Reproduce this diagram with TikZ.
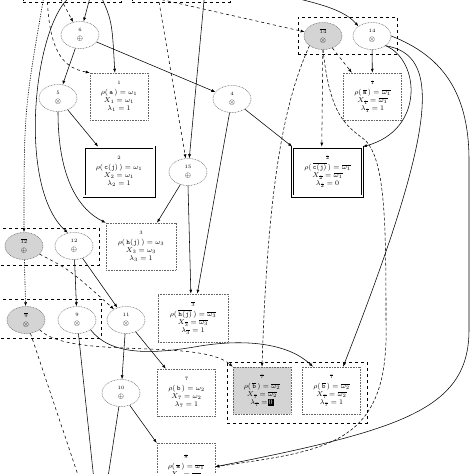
\documentclass[tikz,border=0pt]{standalone}
\usepackage{amsmath,amssymb}
\usepackage{xcolor}
\usepackage{tikz}
\usetikzlibrary{arrows.meta,shapes.geometric}
\definecolor{opgray}{HTML}{D4D4D4}

\begin{document}
\begin{tikzpicture}[x=1pt, y=-1pt,
  op/.style={ellipse, draw=black!60, dash pattern=on 0.8pt off 0.8pt, line width=0.5pt, fill=white, minimum width=38pt, minimum height=27pt, inner sep=0pt, font=\tiny, align=center},
  opg/.style={op, fill=opgray},
  cell/.style={rectangle, draw=black!60, dash pattern=on 0.8pt off 0.8pt, line width=0.5pt, fill=white, minimum width=58pt, minimum height=47pt, inner sep=1pt, font=\scriptsize, align=center},
  cellg/.style={cell, fill=opgray},
  dcell/.style={cell, draw=black, solid, double, double distance=1.6pt, line width=0.7pt, minimum width=70pt, minimum height=49pt},
  grp/.style={draw, dashed, line width=0.7pt, inner sep=0pt},
  arr/.style={-{Latex[length=4pt,width=3pt]}, line width=0.55pt},
  darr/.style={arr, dashed},
  sarr/.style={arr, densely dashed},
  parr/.style={arr, dash pattern=on 1.2pt off 1.2pt, line width=0.6pt}]
\useasboundingbox (0,0) rectangle (474,474);
\clip (0,0) rectangle (474,474);
% groups
\node[grp, minimum width=98pt, minimum height=42pt] (topA) at (72,-19) {};
\node[grp, minimum width=98pt, minimum height=42pt] (topB) at (181,-19) {};
\node[grp, minimum width=99pt, minimum height=37pt] (g14) at (347.5,35.5) {};
\node[grp, minimum width=104pt, minimum height=37pt] (g12) at (47,246.5) {};
\node[grp, minimum width=106pt, minimum height=39pt] (g9) at (48,318.5) {};
\node[grp, minimum width=140pt, minimum height=61pt] (g7) at (297,392.5) {};
% operator nodes
\foreach \nm/\px/\py/\lab/\sym in {n6/80/35/6/\oplus, n5/58/98/5/\otimes, n4/232/99/4/\otimes,
    n15/188/172/15/\oplus, n14/372/36/14/\otimes, n12/74/246/12/\oplus,
    n9/77/320/9/\otimes, n11/126/320/11/\otimes, n10/121/393/10/\oplus}
  \node[op] (\nm) at (\px,\py) {\lab\\[3pt]{\scriptsize$\sym$}};
\foreach \nm/\px/\py/\lab/\sym in {n14b/323/36/{$\overline{14}$}/\otimes,
    n12b/24/246/{$\overline{12}$}/\oplus, n9b/26/320/{$\overline{9}$}/\otimes}
  \node[opg] (\nm) at (\px,\py) {\lab\\[3pt]{\scriptsize$\sym$}};
% leaves
\node[cell] (n1) at (119,96.5) {{\tiny 1}\\[2pt]$\rho(\,\mathtt{a}\,)=\omega_1$\\$X_1=\omega_1$\\$\lambda_1=1$};
\node[cell] (n1b) at (372.5,96.5) {{\tiny $\overline{1}$}\\[2pt]$\rho(\,\overline{\mathtt{a}}\,)=\overline{\omega_1}$\\$X_{\overline{1}}=\overline{\omega_1}$\\$\lambda_{\overline{1}}=1$};
\node[dcell] (n2) at (119,171.5) {{\tiny 2}\\[2pt]$\rho(\,\mathtt{c(j)}\,)=\omega_1$\\$X_2=\omega_1$\\$\lambda_2=1$};
\node[dcell] (n2b) at (327.5,171.5) {{\tiny $\overline{2}$}\\[2pt]$\rho(\,\overline{\mathtt{c(j)}}\,)=\overline{\omega_1}$\\$X_{\overline{2}}=\overline{\omega_1}$\\$\lambda_{\overline{2}}=0$};
\node[cell, minimum width=70pt] (n3) at (141,246.5) {{\tiny 3}\\[2pt]$\rho(\,\mathtt{h(j)}\,)=\omega_3$\\$X_3=\omega_3$\\$\lambda_3=1$};
\node[cell, minimum width=70pt, minimum height=48pt] (n3b) at (193,318) {{\tiny $\overline{3}$}\\[2pt]$\rho(\,\overline{\mathtt{h(j)}}\,)=\overline{\omega_3}$\\$X_{\overline{3}}=\overline{\omega_3}$\\$\lambda_{\overline{3}}=1$};
\node[cell] (n7) at (186.5,392.5) {{\tiny 7}\\[2pt]$\rho(\,\mathtt{b}\,)=\omega_2$\\$X_7=\omega_2$\\$\lambda_7=1$};
\node[cellg] (n7s) at (262,390.5) {{\tiny $\overline{7}$}\\[2pt]$\rho(\,\overline{\mathtt{b}}\,)=\overline{\omega_2}$\\$X_{\overline{7}}=\overline{\omega_2}$\\$\lambda_{\overline{7}}=${\fboxsep=1pt\colorbox{black}{\color{white}$0$}}};
\node[cell] (n7r) at (331.5,390.5) {{\tiny $\overline{7}$}\\[2pt]$\rho(\,\overline{\mathtt{b}}\,)=\overline{\omega_2}$\\$X_{\overline{7}}=\overline{\omega_2}$\\$\lambda_{\overline{7}}=1$};
\node[cell, anchor=north] (n8) at (186,443) {{\tiny $\overline{8}$}\\[2pt]$\rho(\,\overline{\mathtt{a}}\,)=\overline{\omega_1}$\\$X_{\overline{8}}=\overline{\omega_1}$};
% loose ends
\coordinate (a1) at (92,-10);
\coordinate (a2) at (55,-12);
\coordinate (a3) at (98,-10);
\coordinate (a4) at (74,-6);
\coordinate (a5) at (45,-10);
\coordinate (a6) at (47,-10);
\coordinate (b1) at (157,-10);
\coordinate (b2) at (205,-10);
\coordinate (b3) at (150,-3);
\coordinate (b4) at (240,-15);
\coordinate (d1) at (83,490);
\coordinate (d2) at (95,490);
\coordinate (d3) at (106,490);
% edges
\draw[arr] (a1) -- (n6);
\draw[darr] (a2) -- (n6);
\draw[arr] (a3) .. controls (112,20) .. (n1.100);
\draw[arr] (a4) .. controls (35,15) and (15,185) .. (n12.115);
\draw[parr] (a5) .. controls (24,110) .. (n12b.north);
\draw[darr] (a6) .. controls (48,55) and (65,68) .. (n1.north west);
\draw[darr] (b1) -- (n15);
\draw[arr] (b2) -- (n15);
\draw[darr] (b3) -- (n14b);
\draw[arr] (b4) .. controls (300,0) and (340,5) .. (n14.north west);
\draw[arr] (n6) -- (n5);
\draw[arr] (n6) -- (n4);
\draw[arr] (n5) -- (n2.130);
\draw[arr] (n5.south) .. controls (58,180) and (80,210) .. (n3.north west);
\draw[arr] (n4) -- (n2b.north west);
\draw[arr] (n4) -- (n3b.80);
\draw[arr] (n15) -- (n3.56);
\draw[arr] (n15.south) -- (n3b.95);
\draw[arr] (n14) -- (n1b);
\draw[darr] (n14b) -- (n2b.103);
\draw[darr] (n14b) -- (n1b.131);
\draw[sarr] (n14b.south west) .. controls (285,100) and (268,180) .. (n7s.north);
\draw[sarr] (n14b.south) .. controls (330,115) and (345,125) .. (365,140) .. controls (385,160) and (386,220) .. (386,320) .. controls (390,445) and (330,450) .. (n8.east);
\draw[arr] (n14.south east) .. controls (420,60) and (425,130) .. (n2b.north east);
\draw[arr] (n14.south east) .. controls (440,55) and (440,120) .. (n7r.64);
\draw[arr] (n14.east) .. controls (440,55) and (469,90) .. (469,160) -- (469,330) .. controls (469,410) and (400,430) .. (n8.east);
\draw[arr] (n12) -- (n9);
\draw[arr] (n12) -- (n11);
\draw[parr] (n12b) -- (n9b);
\draw[darr] (n12b) .. controls (70,270) .. (n11);
\draw[darr] (n9b) -- (d1);
\draw[darr] (n9b.south east) .. controls (70,360) and (200,338) .. (n7s.north west);
\draw[arr] (n9) -- (d2);
\draw[arr] (n9.south east) .. controls (110,355) and (150,355) .. (200,346) .. controls (250,338) and (290,345) .. (n7r.128);
\draw[arr] (n11) -- (n10);
\draw[arr] (n11) -- (n7.131);
\draw[arr] (n10) -- (n8.north west);
\draw[arr] (n10) -- (d3);
\end{tikzpicture}
\end{document}
